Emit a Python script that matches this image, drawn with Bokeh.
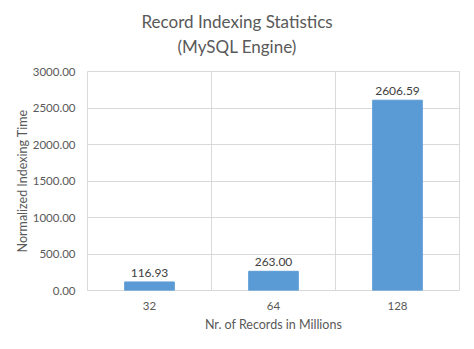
from bokeh.plotting import figure
from bokeh.models import ColumnDataSource, FixedTicker, Title, NumeralTickFormatter, Range1d
from bokeh.core.properties import value
from bokeh.embed import file_html
from bokeh.resources import INLINE

categories = ["32", "64", "128"]
values = [116.93, 263.00, 2606.59]
labels = ["116.93", "263.00", "2606.59"]
y_ticks = [0, 500, 1000, 1500, 2000, 2500, 3000]

FONT = "Lato"
GRAY = "#595959"

xs = [i + 0.5 for i in range(len(categories))]
src = ColumnDataSource(dict(x=xs, top=values, lab=labels))

p = figure(width=474, height=349, output_backend="svg", toolbar_location=None,
           x_range=Range1d(0, len(categories)), y_range=Range1d(0, 3000),
           min_border_left=87, min_border_right=15, min_border_top=71, min_border_bottom=59)
p.outline_line_color = "#d9d9d9"
p.border_fill_color = "white"

p.vbar(x="x", top="top", width=0.4, source=src, color="#5b9bd5")
p.text(x="x", y="top", text="lab", source=src, text_align="center", text_baseline="bottom",
       y_offset=-5, text_font=value(FONT), text_font_size="12px", text_color="#404040")

p.xaxis.ticker = FixedTicker(ticks=xs)
p.xaxis.major_label_overrides = {x: c for x, c in zip(xs, categories)}
p.xgrid.ticker = FixedTicker(ticks=list(range(1, len(categories))))
p.yaxis.ticker = FixedTicker(ticks=y_ticks)
p.yaxis.formatter = NumeralTickFormatter(format="0.00")
p.grid.grid_line_color = "#d9d9d9"

for ax in (p.xaxis[0], p.yaxis[0]):
    ax.axis_line_color = None
    ax.major_tick_line_color = None
    ax.minor_tick_line_color = None
    ax.major_label_text_font = FONT
    ax.major_label_text_font_size = "11.5px"
    ax.major_label_text_color = GRAY
    ax.axis_label_text_font = FONT
    ax.axis_label_text_font_size = "12.5px"
    ax.axis_label_text_font_style = "normal"
    ax.axis_label_text_color = GRAY

p.xaxis.axis_label = "Nr. of Records in Millions"
p.yaxis.axis_label = "Normalized Indexing Time"
p.xaxis.major_label_standoff = 5
p.xaxis.axis_label_standoff = 4
p.yaxis.major_label_standoff = 6
p.yaxis.axis_label_standoff = 0

# spacer closest to the frame, then the two title lines
p.add_layout(Title(text=" ", standoff=0, text_font=FONT, text_font_size="10px"), "above")
for t, off, so in [("(MySQL Engine)", 90, 2), ("Record Indexing Statistics", 54, 2)]:
    p.add_layout(Title(text=t, align="left", offset=off, standoff=so,
                       text_font=FONT, text_font_size="17px", text_font_style="normal",
                       text_color=GRAY), "above")

open("out.html", "w").write(file_html(p, INLINE))
